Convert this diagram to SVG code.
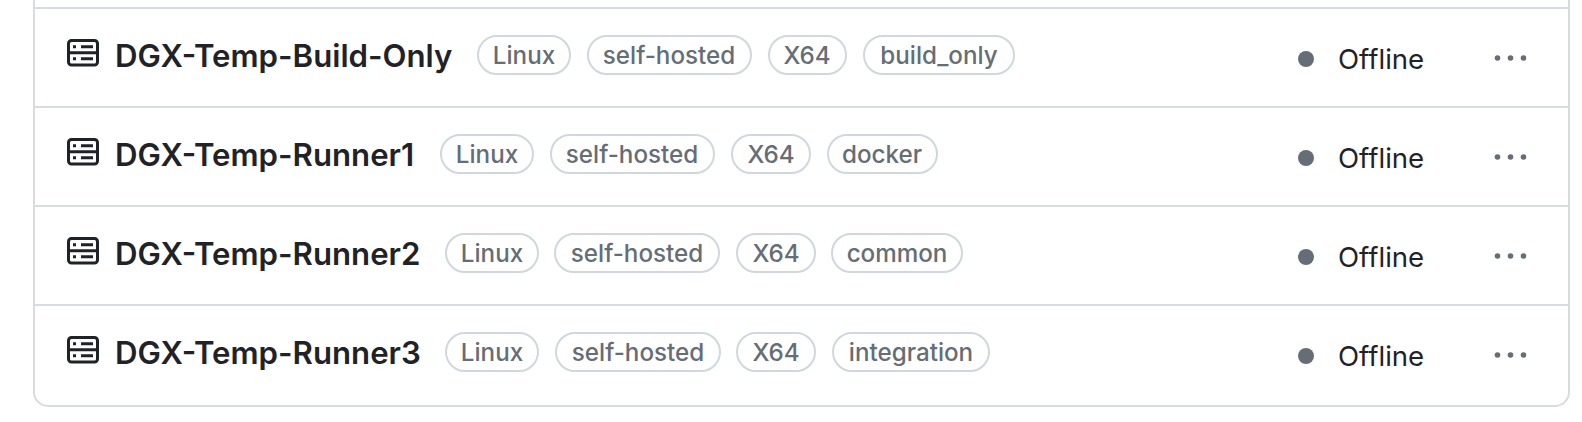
<svg xmlns="http://www.w3.org/2000/svg" width="1582" height="422" viewBox="0 0 1582 422">
<defs>
<style>
.b{fill:none;stroke:#d8dce2;stroke-width:2}
.t{font:600 31.2px Inter,"Liberation Sans",sans-serif;fill:#1f2328}
.p{fill:#fff;stroke:#d0d7de;stroke-width:2}
.l{font:500 24.2px Inter,"Liberation Sans",sans-serif;fill:#656d76;text-anchor:middle}
.o{font:400 27.6px Inter,"Liberation Sans",sans-serif;fill:#1f2328}
.d{fill:#656d76}
.i{fill:none;stroke:#1f2328;stroke-width:3}
</style>
<g id="srv"><rect class="i" x="1.5" y="1.5" width="29" height="24.5" rx="3"/><path class="i" d="M1.5 13.7H30.5M14 7.8H26M14 19.8H26"/><path class="i" d="M6 7.8H9M6 19.8H9"/></g>
<g id="dots"><circle class="d" cx="0" cy="0" r="2.8"/><circle class="d" cx="13" cy="0" r="2.8"/><circle class="d" cx="26" cy="0" r="2.8"/></g>
</defs>
<rect width="1582" height="422" fill="#fff"/>
<g id="frame"><path class="b" d="M34 0V392a14 14 0 0 0 14 14H1555a14 14 0 0 0 14-14V0"/><path class="b" d="M34 8H1569M34 107H1569M34 206H1569M34 305H1569"/></g>
<g id="row1"><use href="#srv" x="67" y="39"/><text class="t" x="115" y="67">DGX-Temp-Build-Only</text>
<rect class="p" x="478" y="36" width="92" height="38" rx="19"/><text class="l" x="524" y="64">Linux</text>
<rect class="p" x="588" y="36" width="163" height="38" rx="19"/><text class="l" x="669" y="64">self-hosted</text>
<rect class="p" x="769" y="36" width="77" height="38" rx="19"/><text class="l" x="807" y="64">X64</text>
<rect class="p" x="864" y="36" width="150" height="38" rx="19"/><text class="l" x="939" y="64">build_only</text>
<circle class="d" cx="1306" cy="59" r="8"/><text class="o" x="1338" y="69">Offline</text><use href="#dots" x="1497.5" y="58"/></g>
<g id="row2"><use href="#srv" x="67" y="138"/><text class="t" x="115" y="166">DGX-Temp-Runner1</text>
<rect class="p" x="441" y="135" width="92" height="38" rx="19"/><text class="l" x="487" y="163">Linux</text>
<rect class="p" x="551" y="135" width="163" height="38" rx="19"/><text class="l" x="632" y="163">self-hosted</text>
<rect class="p" x="732" y="135" width="78" height="38" rx="19"/><text class="l" x="771" y="163">X64</text>
<rect class="p" x="828" y="135" width="109" height="38" rx="19"/><text class="l" x="882" y="163">docker</text>
<circle class="d" cx="1306" cy="158" r="8"/><text class="o" x="1338" y="168">Offline</text><use href="#dots" x="1497.5" y="157"/></g>
<g id="row3"><use href="#srv" x="67" y="237"/><text class="t" x="115" y="265">DGX-Temp-Runner2</text>
<rect class="p" x="446" y="234" width="92" height="38" rx="19"/><text class="l" x="492" y="262">Linux</text>
<rect class="p" x="555" y="234" width="164" height="38" rx="19"/><text class="l" x="637" y="262">self-hosted</text>
<rect class="p" x="737" y="234" width="78" height="38" rx="19"/><text class="l" x="776" y="262">X64</text>
<rect class="p" x="832" y="234" width="130" height="38" rx="19"/><text class="l" x="897" y="262">common</text>
<circle class="d" cx="1306" cy="257" r="8"/><text class="o" x="1338" y="267">Offline</text><use href="#dots" x="1497.5" y="256"/></g>
<g id="row4"><use href="#srv" x="67" y="336"/><text class="t" x="115" y="364">DGX-Temp-Runner3</text>
<rect class="p" x="446" y="333" width="92" height="38" rx="19"/><text class="l" x="492" y="361">Linux</text>
<rect class="p" x="556" y="333" width="164" height="38" rx="19"/><text class="l" x="638" y="361">self-hosted</text>
<rect class="p" x="737" y="333" width="78" height="38" rx="19"/><text class="l" x="776" y="361">X64</text>
<rect class="p" x="833" y="333" width="156" height="38" rx="19"/><text class="l" x="911" y="361">integration</text>
<circle class="d" cx="1306" cy="356" r="8"/><text class="o" x="1338" y="366">Offline</text><use href="#dots" x="1497.5" y="355"/></g>
</svg>
